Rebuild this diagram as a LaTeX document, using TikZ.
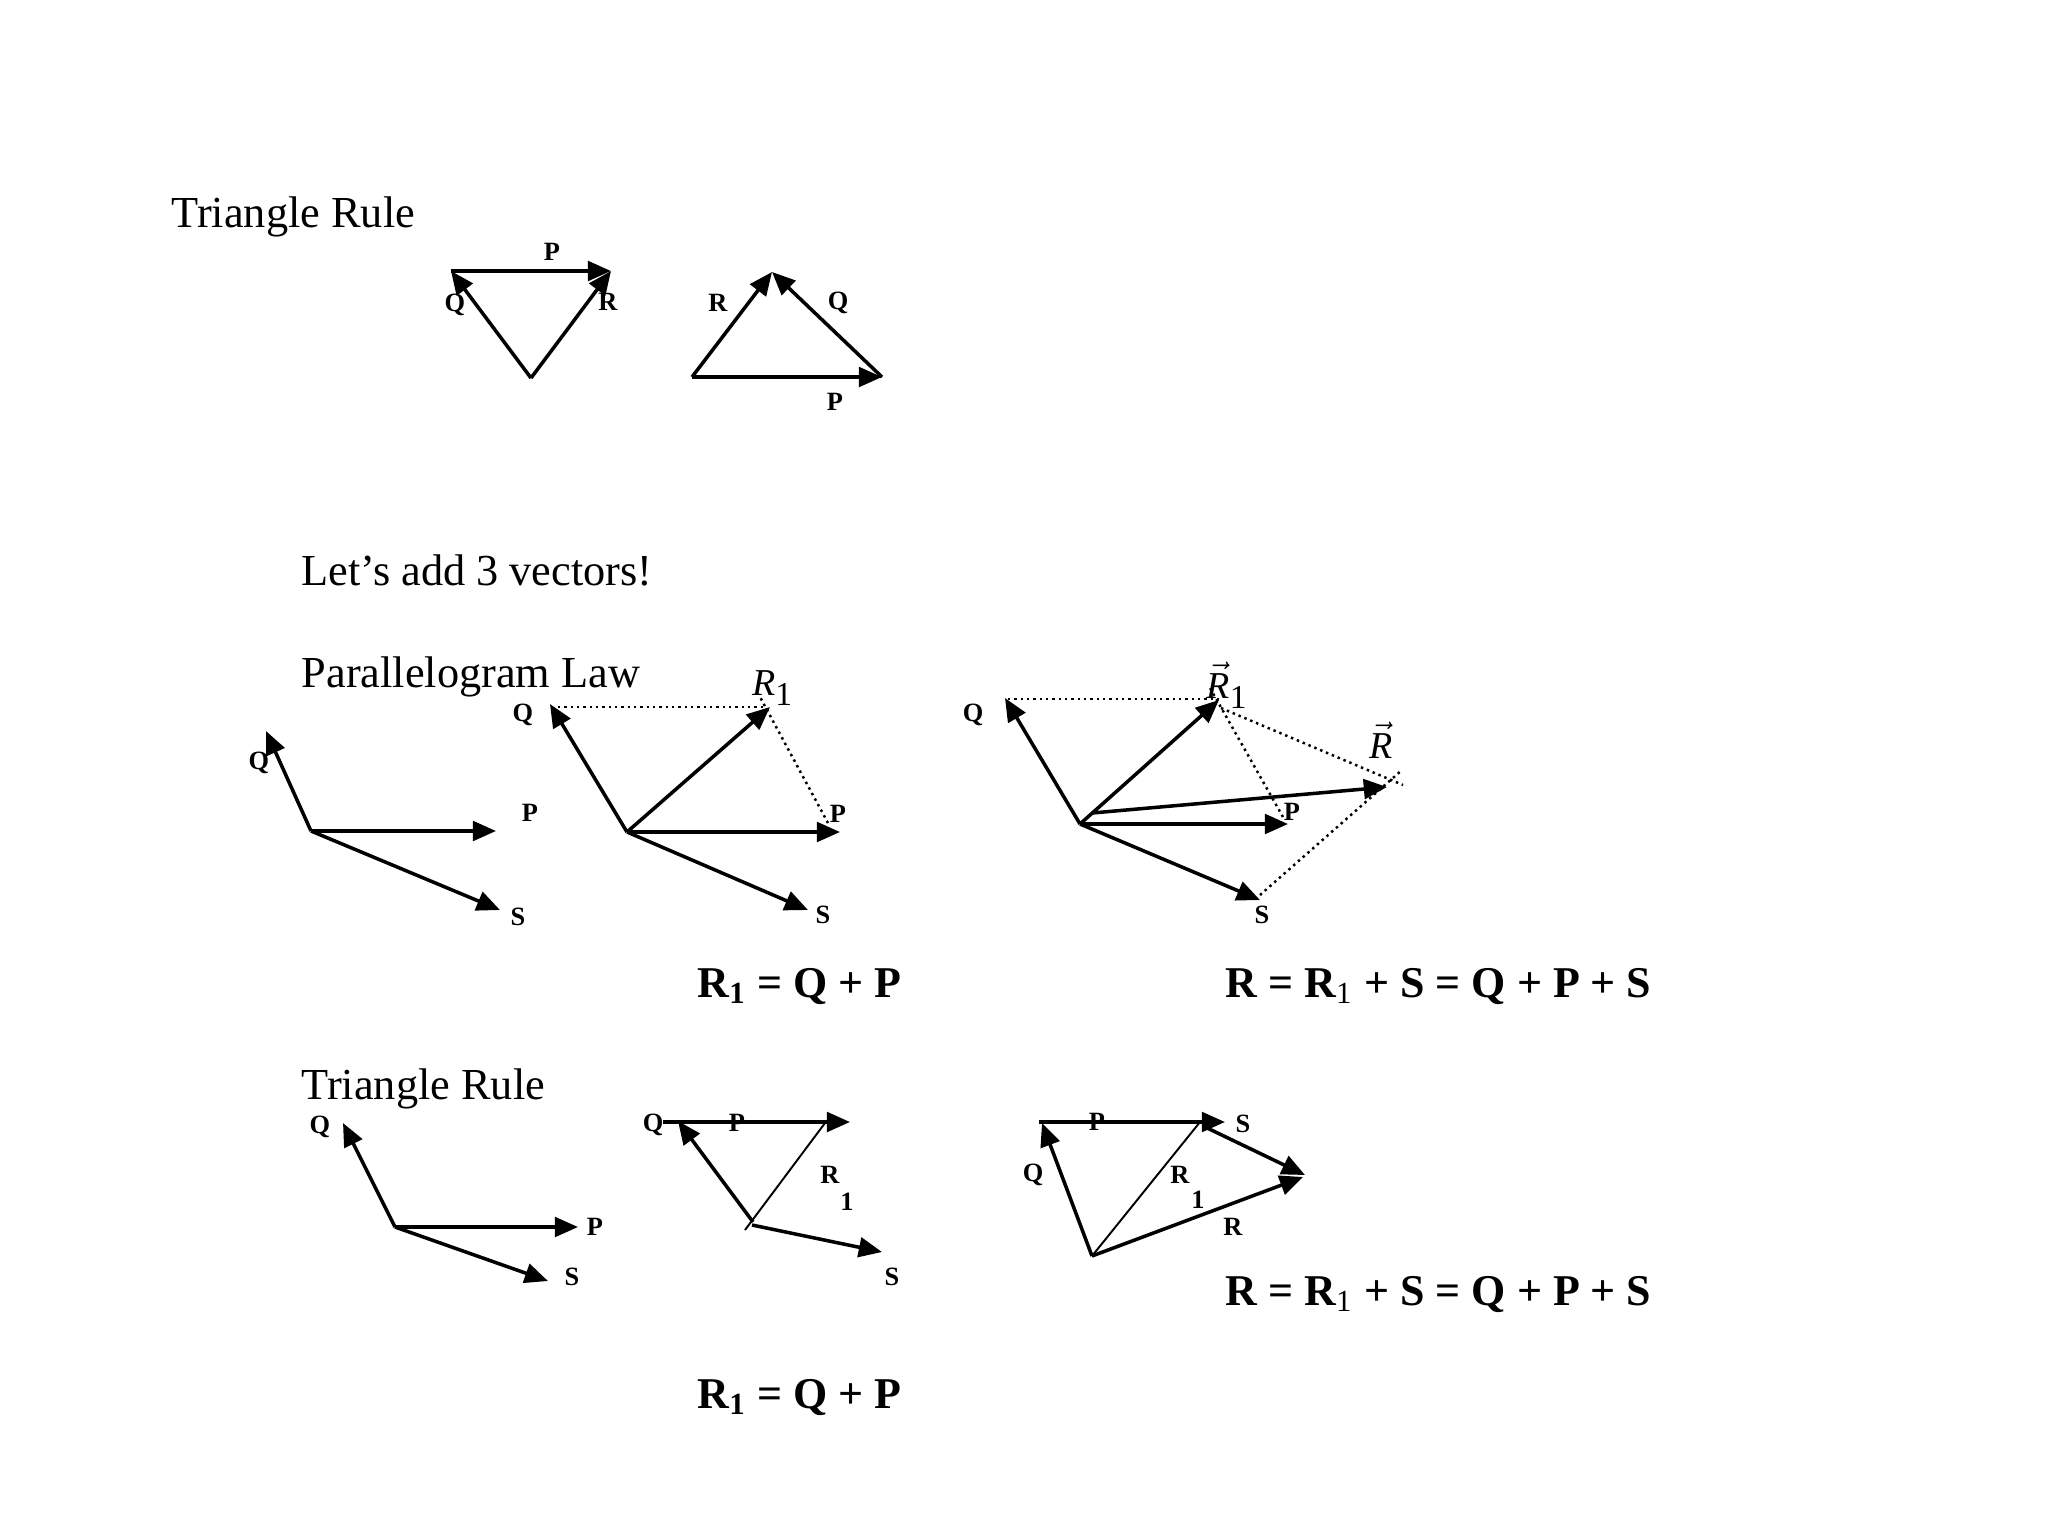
\documentclass[tikz,border=0pt]{standalone}
\usepackage{fontspec}
\setmainfont{Liberation Serif}
\usetikzlibrary{arrows.meta}
\newcommand{\ROne}{\textit{R}\raisebox{-0.28em}{\fontsize{9.5}{10}\selectfont 1}}
\newcommand{\vecR}{$\vec{\mbox{\itshape R}}$}
\tikzset{
  vecarrow/.style={line width=1.0pt, -{Triangle[length=6.6pt,width=5.6pt]}},
  thinln/.style={line width=0.55pt},
  dots/.style={line width=0.7pt, dash pattern=on 0.7pt off 1.1pt},
  lbl/.style={font=\bfseries\fontsize{7.5}{9}\selectfont, inner sep=0pt},
  title/.style={font=\fontsize{12.6}{14}\selectfont, inner sep=0pt, anchor=base west},
  eqn/.style={font=\bfseries\fontsize{12.5}{14}\selectfont, inner sep=0pt, anchor=base west},
  ital/.style={font=\fontsize{10.8}{12}\selectfont, inner sep=0pt},
}
\begin{document}
\begin{tikzpicture}[x=0.01cm,y=-0.01cm]
\useasboundingbox (0,0) rectangle (2048,1536);
\fill[white] (0,0) rectangle (2048,1536);

% ---- titles and equations
\node[title] (t1) at (171,227) {Triangle Rule};
\node[title] (t2) at (301,585) {Let’s add 3 vectors!};
\node[title] (t3) at (301,687) {Parallelogram Law};
\node[title] (t4) at (301,1099) {Triangle Rule};
\node[eqn] (e1) at (697,997) {R\textsubscript{1} = Q + P};
\node[eqn] (e2) at (1225,997) {R = R\textsubscript{\mdseries 1} + S = Q + P + S};
\node[eqn] (e3) at (1225,1305) {R = R\textsubscript{\mdseries 1} + S = Q + P + S};
\node[eqn] (e4) at (697,1408) {R\textsubscript{1} = Q + P};

% ---- top triangle 1
\coordinate (t1a) at (451,271);
\coordinate (t1b) at (611,271);
\coordinate (t1c) at (531,378);
\draw[vecarrow] (t1a) -- (t1b);
\draw[vecarrow] (t1c) -- (t1a);
\draw[vecarrow] (t1c) -- (t1b);
\node[lbl] (t1P) at (552,252) {P};
\node[lbl] (t1Q) at (455,305) {Q};
\node[lbl] (t1R) at (608,302) {R};

% ---- top triangle 2
\coordinate (t2a) at (692,377);
\coordinate (t2b) at (882,377);
\coordinate (t2c) at (772,272);
\draw[vecarrow] (t2a) -- (t2b);
\draw[vecarrow] (t2b) -- (t2c);
\draw[vecarrow] (t2a) -- (t2c);
\node[lbl] (t2R) at (718,303) {R};
\node[lbl] (t2Q) at (838,303) {Q};
\node[lbl] (t2P) at (835,402) {P};

% ---- diagram A
\coordinate (aO) at (311,831);
\coordinate (aQ) at (266,731);
\coordinate (aP) at (496,831);
\coordinate (aS) at (500,910);
\draw[vecarrow] (aO) -- (aQ);
\draw[vecarrow] (aO) -- (aP);
\draw[vecarrow] (aO) -- (aS);
\node[lbl] (aQl) at (259,763) {Q};
\node[lbl] (aPl) at (530,813) {P};
\node[lbl] (aSl) at (518,917) {S};

% ---- diagram B
\coordinate (bO) at (627,832);
\coordinate (bQ) at (550,704);
\coordinate (bR) at (770,707);
\coordinate (bP) at (840,832);
\coordinate (bS) at (808,910);
\coordinate (bQd) at (558,707);
\coordinate (bRd) at (766,707);
\coordinate (bRx) at (760,697);
\coordinate (bPd) at (828,823);
\draw[dots] (bQd) -- (bRd);
\draw[dots] (bPd) -- (bRx);
\draw[vecarrow] (bO) -- (bQ);
\draw[vecarrow] (bO) -- (bR);
\draw[vecarrow] (bO) -- (bP);
\draw[vecarrow] (bO) -- (bS);
\node[lbl] (bQl) at (523,715) {Q};
\node[ital] (bRl) at (772,688) {\ROne};
\node[lbl] (bPl) at (838,814) {P};
\node[lbl] (bSl) at (823,915) {S};

% ---- diagram C
\coordinate (cO) at (1080,824);
\coordinate (cQ) at (1005,698);
\coordinate (cR1) at (1219,700);
\coordinate (cP) at (1288,824);
\coordinate (cS) at (1260,900);
\coordinate (cRs) at (1092,813);
\coordinate (cR) at (1387,787);
\coordinate (cQd) at (1008,699);
\coordinate (cR1d) at (1220,699);
\coordinate (cR1x) at (1210,688);
\coordinate (cPd) at (1283,817);
\coordinate (cR1e) at (1221,708);
\coordinate (cRx1) at (1403,785);
\coordinate (cSd) at (1260,895);
\coordinate (cRx2) at (1402,770);
\draw[dots] (cQd) -- (cR1d);
\draw[dots] (cPd) -- (cR1x);
\draw[dots] (cR1e) -- (cRx1);
\draw[dots] (cSd) -- (cRx2);
\draw[vecarrow] (cO) -- (cQ);
\draw[vecarrow] (cO) -- (cR1);
\draw[vecarrow] (cO) -- (cP);
\draw[vecarrow] (cO) -- (cS);
\draw[vecarrow] (cRs) -- (cR);
\node[lbl] (cQl) at (973,715) {Q};
\node[ital,anchor=base west] (cR1l) at (1206,698) {\vecR\raisebox{-0.28em}{\fontsize{9.5}{10}\selectfont 1}};
\node[ital,anchor=base west] (cRl) at (1369,758) {\vecR};
\node[lbl] (cPl) at (1292,812) {P};
\node[lbl] (cSl) at (1262,915) {S};

% ---- diagram D
\coordinate (dO) at (395,1227);
\coordinate (dQ) at (343,1123);
\coordinate (dP) at (578,1227);
\coordinate (dS) at (548,1281);
\draw[vecarrow] (dO) -- (dQ);
\draw[vecarrow] (dO) -- (dP);
\draw[vecarrow] (dO) -- (dS);
\node[lbl] (dQl) at (320,1127) {Q};
\node[lbl] (dPl) at (595,1227) {P};
\node[lbl] (dSl) at (572,1277) {S};

% ---- diagram E
\coordinate (eA) at (663,1122);
\coordinate (ePt) at (850,1122);
\coordinate (eQt) at (678,1121);
\coordinate (eO) at (753,1222);
\coordinate (eR1s) at (745,1230);
\coordinate (eR1e) at (825,1123);
\coordinate (eSs) at (752,1225);
\coordinate (eSt) at (882,1252);
\draw[vecarrow] (eA) -- (ePt);
\draw[vecarrow] (eO) -- (eQt);
\draw[thinln] (eR1s) -- (eR1e);
\draw[vecarrow] (eSs) -- (eSt);
\node[lbl] (eQl) at (653,1125) {Q};
\node[lbl] (ePl) at (737,1123) {P};
\node[lbl] (eRl) at (830,1175) {R};
\node[lbl] (e1l) at (847,1202) {1};
\node[lbl] (eSl) at (892,1277) {S};

% ---- diagram F
\coordinate (fA) at (1039,1122);
\coordinate (fPt) at (1225,1122);
\coordinate (fO) at (1092,1256);
\coordinate (fQt) at (1042,1123);
\coordinate (fR1e) at (1200,1122);
\coordinate (fSs) at (1203,1126);
\coordinate (fSt) at (1305,1175);
\coordinate (fRt) at (1303,1177);
\draw[vecarrow] (fA) -- (fPt);
\draw[vecarrow] (fO) -- (fQt);
\draw[thinln] (fO) -- (fR1e);
\draw[vecarrow] (fSs) -- (fSt);
\draw[vecarrow] (fO) -- (fRt);
\node[lbl] (fPl) at (1097,1122) {P};
\node[lbl] (fSl) at (1243,1124) {S};
\node[lbl] (fQl) at (1033,1175) {Q};
\node[lbl] (fRl) at (1180,1175) {R};
\node[lbl] (f1l) at (1198,1200) {1};
\node[lbl] (fR2l) at (1233,1227) {R};
\end{tikzpicture}
\end{document}
